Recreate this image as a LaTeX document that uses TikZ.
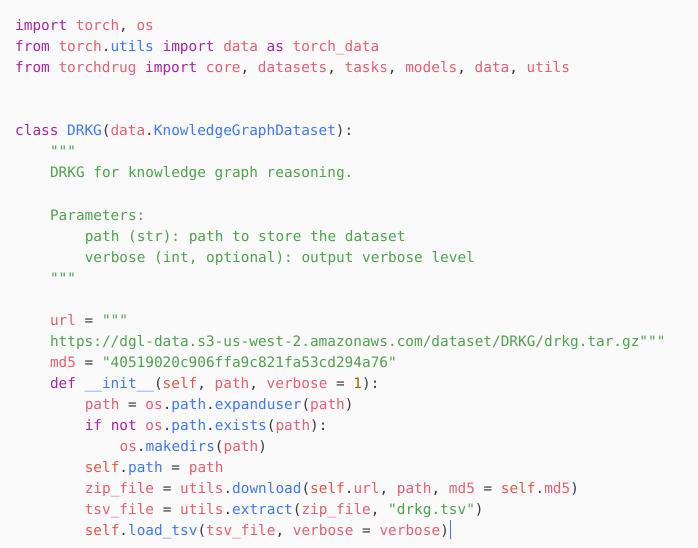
\documentclass[tikz,border=0pt]{standalone}
\usepackage{fontspec}
\setmonofont{DejaVu Sans Mono}
\definecolor{kw}{HTML}{A626A4}
\definecolor{vr}{HTML}{E45F73}
\definecolor{sf}{HTML}{E45649}
\definecolor{bl}{HTML}{4078F2}
\definecolor{gr}{HTML}{50A14F}
\definecolor{nm}{HTML}{986801}
\definecolor{pn}{HTML}{383A42}
\definecolor{bg}{HTML}{FAFAFA}
\newcommand\K[1]{\textcolor{kw}{#1}}
\newcommand\V[1]{\textcolor{vr}{#1}}
\newcommand\Sf[1]{\textcolor{sf}{#1}}
\newcommand\B[1]{\textcolor{bl}{#1}}
\newcommand\G[1]{\textcolor{gr}{#1}}
\newcommand\N[1]{\textcolor{nm}{#1}}
\begin{document}
\begin{tikzpicture}[x=1pt,y=1pt,
  codeline/.style={anchor=base west,inner sep=0pt,font=\fontsize{14.4}{21}\ttfamily,text=pn}]
\fill[bg] (0,0) rectangle (698,-548);
\useasboundingbox (0,0) rectangle (698,-548);
\def\L#1#2#3{\node[codeline] (l#1) at ({15+8.7*#2},{-31-21*(#1-1)}) {#3};}
\L{1}{0}{\K{import} \V{torch}, \V{os}}
\L{2}{0}{\K{from} \V{torch}.\B{utils} \K{import} \V{data} \K{as} \V{torch\_data}}
\L{3}{0}{\K{from} \V{torchdrug} \K{import} \V{core}, \V{datasets}, \V{tasks}, \V{models}, \V{data}, \V{utils}}
\L{6}{0}{\K{class} \B{DRKG}(\V{data}.\B{KnowledgeGraphDataset}):}
\L{7}{4}{\G{"""}}
\L{8}{4}{\G{DRKG for knowledge graph reasoning.}}
\L{10}{4}{\G{Parameters:}}
\L{11}{8}{\G{path (str): path to store the dataset}}
\L{12}{8}{\G{verbose (int, optional): output verbose level}}
\L{13}{4}{\G{"""}}
\L{15}{4}{\V{url} = \G{"""}}
\L{16}{4}{\G{https://dgl-data.s3-us-west-2.amazonaws.com/dataset/DRKG/drkg.tar.gz"""}}
\L{17}{4}{\V{md5} = \G{"40519020c906ffa9c821fa53cd294a76"}}
\L{18}{4}{\K{def} \B{\_\_init\_\_}(\Sf{self}, \V{path}, \V{verbose} = \N{1}):}
\L{19}{8}{\V{path} = \V{os}.\B{path}.\B{expanduser}(\V{path})}
\L{20}{8}{\K{if} \K{not} \V{os}.\B{path}.\B{exists}(\V{path}):}
\L{21}{12}{\V{os}.\B{makedirs}(\V{path})}
\L{22}{8}{\Sf{self}.\B{path} = \V{path}}
\L{23}{8}{\V{zip\_file} = \V{utils}.\B{download}(\Sf{self}.\V{url}, \V{path}, \V{md5} = \Sf{self}.\V{md5})}
\L{24}{8}{\V{tsv\_file} = \V{utils}.\B{extract}(\V{zip\_file}, \G{"drkg.tsv"})}
\L{25}{8}{\Sf{self}.\B{load\_tsv}(\V{tsv\_file}, \V{verbose} = \V{verbose})}
\coordinate (c1) at ([xshift=2pt]l25.south east);
\draw[bl,line width=1.5pt] ([yshift=-4pt]l25.base east) ++(1.5,0) -- ++(0,19);
\end{tikzpicture}
\end{document}
